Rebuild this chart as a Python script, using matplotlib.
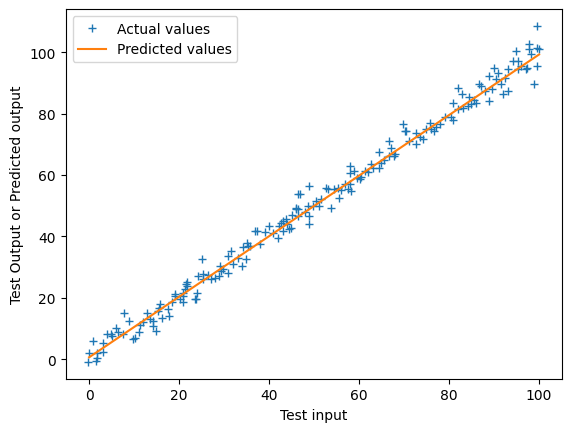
import matplotlib
matplotlib.use("Agg")
import matplotlib.pyplot as plt

# Actual (test) values
test_x = [-0.2, 0.0, 1.7, 1.8, 1.6, 0.8, 3.0, 3.0, 3.9, 5.0, 4.8, 5.9, 7.8, 8.9, 7.6, 9.7,
          10.2, 11.2, 11.3, 12.9, 14.3, 14.9, 14.3, 15.4, 15.7, 15.6, 16.1, 17.8, 17.6,
          19.1, 20.2, 20.9, 21.5, 21.8, 20.9, 23.7, 24.2, 25.0, 19.1, 20.9, 21.3, 21.7,
          23.5, 23.9, 25.2, 25.3, 27.9, 28.9, 29.0, 29.4, 29.8, 30.9, 30.9, 31.6, 33.9,
          34.1, 34.8, 35.0, 35.7, 35.2, 36.8, 37.3, 39.0, 40.0, 42.0, 42.3, 43.1, 42.7,
          43.8, 44.4, 44.9, 46.4, 45.9, 46.4, 43.0, 45.0, 44.0, 46.0, 46.5, 46.8, 47.9,
          48.6, 48.9, 48.9, 48.9, 49.7, 51.6, 52.7, 53.0, 53.8, 54.5, 55.3, 55.6, 56.8,
          57.5, 57.9, 57.9, 58.0, 58.2, 58.9, 60.1, 61.2, 62.7, 63.1, 64.5, 64.5, 64.9,
          66.7, 67.1, 67.8, 66.7, 69.7, 70.3, 70.4, 72.6, 72.6, 74.1, 74.8, 75.7, 76.7,
          80.4, 80.8, 80.8, 81.9, 82.8, 84.1, 84.8, 84.5, 86.0, 86.7, 87.1, 88.0, 88.9,
          88.9, 90.0, 90.4, 90.8, 91.5, 91.9, 93.0, 93.0, 94.1, 94.8, 95.2, 95.2, 97.0,
          97.4, 97.8, 97.8, 98.2, 98.9, 99.6, 99.6, 100.0, 99.6, 78.0, 77.0, 79.0, 60.5,
          62.0, 65.5, 68.0, 71.0, 73.5, 83.0, 85.5, 89.5, 92.5, 96.0, 6.5, 12.0, 13.5,
          18.5, 26.5, 27.0, 32.0, 33.0, 38.0, 40.8, 50.5, 51.0, 56.0, 59.5, 76.0, 82.0]
test_y = [-0.9, 1.9, 0.5, 1.9, -0.5, 6.0, 5.4, 2.4, 8.1, 7.4, 8.1, 10.3, 15.0, 12.3, 8.1,
          6.7, 7.0, 8.7, 11.1, 15.0, 10.8, 9.2, 12.5, 15.7, 17.9, 16.8, 13.5, 14.1, 16.3,
          20.6, 19.5, 20.6, 24.4, 23.9, 21.7, 19.5, 27.1, 32.6, 21.2, 18.5, 22.8, 25.0,
          19.5, 21.7, 27.7, 26.0, 26.6, 27.1, 30.4, 28.7, 29.3, 28.2, 33.7, 35.3, 30.4,
          36.4, 32.6, 38.0, 37.0, 37.0, 41.8, 41.8, 41.3, 43.4, 39.6, 43.4, 41.8, 44.5,
          45.6, 42.3, 42.8, 53.7, 48.9, 46.7, 45.0, 47.0, 44.0, 49.4, 49.0, 53.7, 47.8,
          50.0, 56.5, 44.0, 46.7, 50.0, 52.1, 55.9, 55.4, 49.4, 55.4, 55.9, 52.6, 57.0,
          55.4, 63.0, 60.8, 57.0, 54.9, 61.4, 58.6, 61.4, 63.5, 62.4, 62.4, 67.4, 64.0,
          71.1, 68.9, 66.2, 66.2, 76.5, 74.4, 74.4, 73.8, 70.0, 71.7, 74.9, 77.1, 74.4,
          78.8, 78.0, 83.6, 88.4, 86.3, 82.5, 83.0, 85.4, 83.6, 89.6, 89.0, 87.5, 92.3,
          84.2, 95.0, 91.2, 93.4, 89.6, 86.3, 87.5, 94.5, 97.2, 100.5, 97.2, 94.5, 94.5,
          95.0, 102.6, 101.0, 99.3, 89.8, 108.6, 101.5, 101.0, 95.6, 76.5, 75.5, 79.0,
          59.5, 61.0, 65.0, 67.0, 71.0, 72.5, 82.0, 84.5, 88.0, 91.5, 95.5, 9.0, 12.0,
          13.0, 18.5, 27.5, 26.0, 31.0, 33.0, 37.5, 41.0, 51.5, 50.0, 55.0, 59.0, 75.0, 81.5]

# Predicted (fitted) values at the ends of the test range
pred_x = [0.0, 100.0]
pred_y = [0.6, 99.3]

fig, ax = plt.subplots(figsize=(6.4, 4.8), dpi=100)
ax.plot(test_x, test_y, '+', color='C0', label='Actual values')
ax.plot(pred_x, pred_y, '-', color='C1', label='Predicted values')
ax.set_xlabel('Test input')
ax.set_ylabel('Test Output or Predicted output')
ax.legend(loc='upper left')
fig.savefig('out.png', bbox_inches='tight')
